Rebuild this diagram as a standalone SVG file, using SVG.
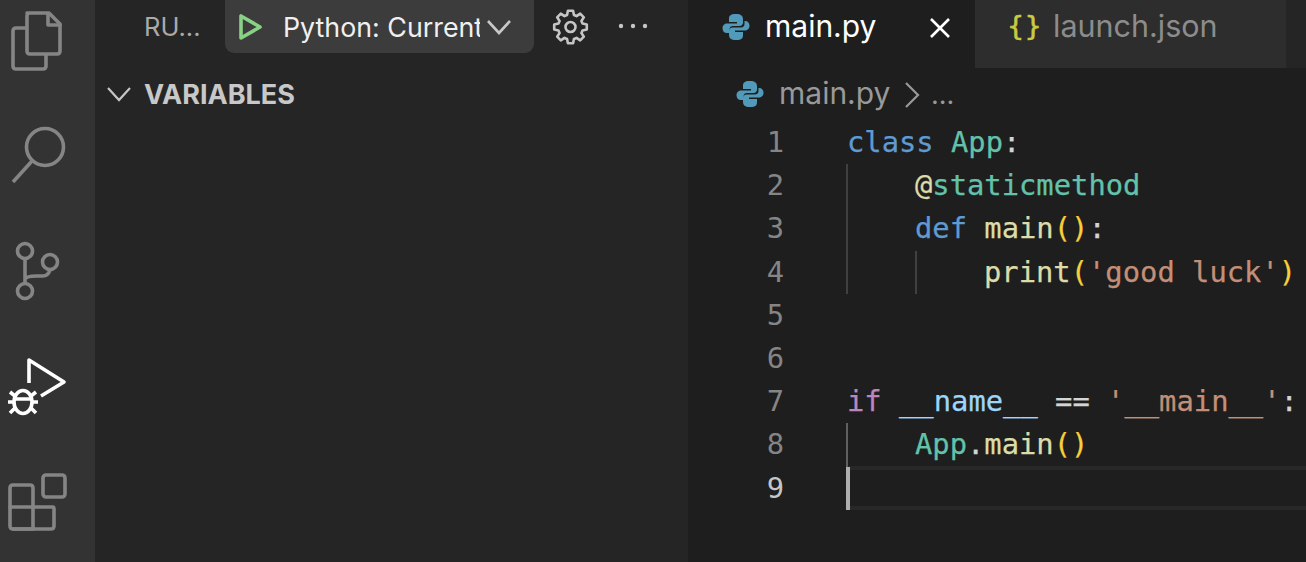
<svg xmlns="http://www.w3.org/2000/svg" width="1306" height="562" viewBox="0 0 1306 562">
<style>
.ui{font-family:"Inter","Roboto","Liberation Sans",sans-serif}
.code{font-family:"DejaVu Sans Mono","Liberation Mono",monospace;font-size:28.8px;white-space:pre;stroke-width:.25px}
.num{font-family:"DejaVu Sans Mono","Liberation Mono",monospace;font-size:28.8px;fill:#858585;text-anchor:end}
.ico{fill:none;stroke:#858585;stroke-width:3.6;stroke-linejoin:round;stroke-linecap:round}
.w{fill:none;stroke:#fff;stroke-width:3.6;stroke-linejoin:round}
.k{fill:#5f9ad2;stroke:#5f9ad2}.t{fill:#62c2aa;stroke:#62c2aa}.p{fill:#d4d4d4;stroke:#d4d4d4}.f{fill:#dcdcaa;stroke:#dcdcaa}.b{fill:#f6cf3c;stroke:#f6cf3c}.s{fill:#c48f77;stroke:#c48f77}.c{fill:#bb86bd;stroke:#bb86bd}.v{fill:#9cd6fa;stroke:#9cd6fa}
</style>
<defs>
<g id="py">
<path d="M0 -13C-6 -13 -7 -11 -7 -8V-5H1V-3.500H-9C-12 -3.500 -13.500 -1 -13.500 1C-13.500 4 -12 6 -9 6H-6.500V2.500C-6.500 0 -5 -1 -3 -1H3.500C5.500 -1 7 -2.500 7 -4.500V-8C7 -11 5 -13 0 -13Z" fill="#519aba"/>
<path d="M0 13C6 13 7 11 7 8V5H-1V3.500H9C12 3.500 13.500 1 13.500 -1C13.500 -4 12 -6 9 -6H8.500V-3C8.500 -1 7 .5 5 .5H-3.500C-5.500 .5 -7 2 -7 4V8C-7 11 -5 13 0 13Z" fill="#519aba"/>
</g>
<clipPath id="clipPy"><rect x="280" y="0" width="200" height="53"/></clipPath>
</defs>
<rect width="1306" height="562" fill="#1e1e1e"/>
<g id="activity-bar">
<rect width="95" height="562" fill="#333"/>
<g id="icon-files" class="ico">
<path d="M27 13H49L60 24V51Q60 54 57 54H30Q27 54 27 51V16Q27 13 30 13Z"/>
<path d="M48 14V25H60"/>
<path d="M26 28H16Q13 28 13 31V66Q13 69 16 69H43Q46 69 46 66V55"/>
</g>
<g id="icon-search" class="ico">
<circle cx="45" cy="147" r="18.500"/>
<path d="M32 161L13 182" stroke-linecap="butt"/>
</g>
<g id="icon-git" class="ico">
<circle cx="25" cy="251" r="7.500"/>
<circle cx="50" cy="262" r="7.500"/>
<circle cx="25" cy="291" r="7.500"/>
<path d="M25 259V283M25 279Q27 276 36 276H43Q48 276 50 270"/>
</g>
<g id="icon-debug">
<path class="w" d="M29 383V360L64 382L41 396"/>
<ellipse cx="23" cy="402" rx="9" ry="11.500" class="w"/>
<path class="w" d="M14 399H32M8 402H14M32 402H38M10 392L15 396M36 392L31 396M10 413L15 408M36 413L31 408"/>
</g>
<g id="icon-extensions" class="ico">
<path d="M13 485H30Q33 485 33 488V529H13Q10 529 10 526V488Q10 485 13 485Z"/>
<path d="M10 507H53Q54 507 54 509V526Q54 529 51 529H13"/>
<rect x="43" y="475" width="22" height="22" rx="3"/>
</g>
</g>
<g id="sidebar">
<rect x="95" width="593" height="562" fill="#252526"/>
<text class="ui" x="144" y="36" font-size="25.500" fill="#aaa">RU...</text>
<g id="debug-dropdown">
<rect x="225" y="-8" width="309" height="61" rx="9" fill="#3c3c3c"/>
<path d="M241 16V38L260 27Z" fill="none" stroke="#89d185" stroke-width="3.600" stroke-linejoin="round"/>
<g clip-path="url(#clipPy)"><text class="ui" x="283" y="37" font-size="26.800" fill="#f0f0f0">Python: Current File</text></g>
<path d="M488 21L499 33L510 21" fill="none" stroke="#c8c8c8" stroke-width="2.600"/>
</g>
<g id="icon-gear" fill="none" stroke="#c5c5c5" stroke-width="2.600" stroke-linejoin="round" transform="translate(570.500 27)">
<path d="M-2.580 -16.300L2.580 -16.300 3.450 -12 6.060 -10.930 9.700 -13.350 13.350 -9.700 10.930 -6.060 12 -3.450 16.300 -2.580 16.300 2.580 12 3.450 10.930 6.060 13.350 9.700 9.700 13.350 6.060 10.930 3.450 12 2.580 16.300 -2.580 16.300 -3.450 12 -6.060 10.930 -9.700 13.350 -13.350 9.700 -10.930 6.060 -12 3.450 -16.300 2.580 -16.300 -2.580 -12 -3.450 -10.930 -6.060 -13.350 -9.700 -9.700 -13.350 -6.060 -10.930 -3.450 -12Z"/>
<circle r="5"/>
</g>
<g id="icon-more" fill="#c5c5c5">
<circle cx="621" cy="26" r="2.200"/><circle cx="633" cy="26" r="2.200"/><circle cx="645" cy="26" r="2.200"/>
</g>
<path id="chevron-vars" d="M108 88L119 100L130 88" fill="none" stroke="#c5c5c5" stroke-width="2.200"/>
<text class="ui" x="144" y="104" font-size="27" font-weight="700" fill="#c8c8c8">VARIABLES</text>
</g>
<g id="tabs">
<rect x="688" width="618" height="68" fill="#252526"/>
<rect id="tab-main" x="688" width="287" height="68" fill="#1e1e1e"/>
<rect id="tab-launch" x="975" width="311" height="68" fill="#2d2d2d"/>
<use href="#py" x="736" y="27"/>
<text class="ui" x="765" y="37" font-size="30" fill="#fff">main.py</text>
<path d="M931 19L949 37M949 19L931 37" stroke="#fff" stroke-width="2.600" fill="none"/>
<text x="1007.500" y="35" font-family="DejaVu Sans Mono,monospace" font-size="27" fill="#cbcb41" stroke="#cbcb41" stroke-width=".6">{</text>
<text x="1025" y="35" font-family="DejaVu Sans Mono,monospace" font-size="27" fill="#cbcb41" stroke="#cbcb41" stroke-width=".6">}</text>
<text class="ui" x="1053" y="37" font-size="30.500" fill="#8c8c8c">launch.json</text>
</g>
<g id="breadcrumb">
<use href="#py" x="750" y="94"/>
<text class="ui" x="779" y="104" font-size="30" fill="#999">main.py</text>
<path d="M906 83L918 95L906 107" fill="none" stroke="#999" stroke-width="2.200"/>
<text class="ui" x="931" y="104" font-size="27" fill="#999">...</text>
</g>
<g id="editor">
<rect x="846" y="466" width="460" height="4" fill="#282828"/>
<rect x="846" y="506" width="460" height="4" fill="#282828"/>
<path d="M847 164V294M916 251V294" stroke="#404040" stroke-width="2" fill="none"/>
<path d="M847 423V467" stroke="#606060" stroke-width="2" fill="none"/>
<rect x="846" y="467" width="4" height="43" fill="#aeafad"/>
<text class="num" x="784" y="152">1</text>
<text class="num" x="784" y="195">2</text>
<text class="num" x="784" y="238">3</text>
<text class="num" x="784" y="282">4</text>
<text class="num" x="784" y="325">5</text>
<text class="num" x="784" y="368">6</text>
<text class="num" x="784" y="411">7</text>
<text class="num" x="784" y="454">8</text>
<text class="num" x="784" y="498" style="fill:#c6c6c6">9</text>
<text class="code" x="847" y="152" xml:space="preserve"><tspan class="k">class</tspan> <tspan class="t">App</tspan><tspan class="p">:</tspan></text>
<text class="code" x="915" y="195" xml:space="preserve"><tspan class="f">@</tspan><tspan class="t">staticmethod</tspan></text>
<text class="code" x="915" y="238" xml:space="preserve"><tspan class="k">def</tspan> <tspan class="f">main</tspan><tspan class="b">()</tspan><tspan class="p">:</tspan></text>
<text class="code" x="984" y="282" xml:space="preserve"><tspan class="f">print</tspan><tspan class="b">(</tspan><tspan class="s">'good luck'</tspan><tspan class="b">)</tspan></text>
<text class="code" x="847" y="411" xml:space="preserve"><tspan class="c">if</tspan> <tspan class="v">__name__</tspan> <tspan class="p">==</tspan> <tspan class="s">'__main__'</tspan><tspan class="p">:</tspan></text>
<text class="code" x="915" y="454" xml:space="preserve"><tspan class="t">App</tspan><tspan class="p">.</tspan><tspan class="f">main</tspan><tspan class="b">()</tspan></text>
</g>
</svg>
